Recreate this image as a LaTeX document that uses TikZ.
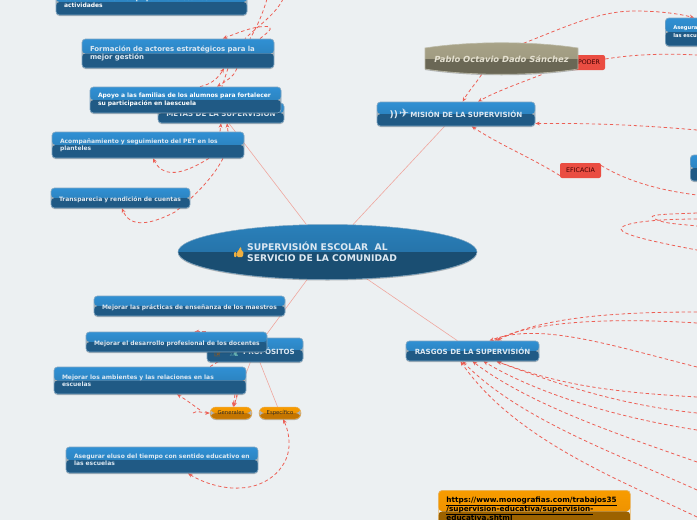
\documentclass[tikz,border=0pt]{standalone}
\usepackage{fontspec}
\setmainfont{DejaVu Sans}
\newfontfamily\emojifont{Noto Emoji}
\usetikzlibrary{arrows.meta,shadows,shapes.geometric}
\pgfdeclarelayer{bgl}\pgfdeclarelayer{edgel}
\pgfsetlayers{bgl,edgel,main}
\newcommand{\lowr}[1]{\rule{0pt}{9pt}#1}
\definecolor{pagebg}{HTML}{ECF0F2}
\definecolor{blueA}{HTML}{3090D4}
\definecolor{blueB}{HTML}{2878AE}
\definecolor{blueC}{HTML}{205A85}
\definecolor{blueEdge}{HTML}{7FA6C2}
\definecolor{cenA}{HTML}{2A80BA}
\definecolor{cenB}{HTML}{22689A}
\definecolor{cenC}{HTML}{1A4E72}
\definecolor{orA}{HTML}{F89C00}
\definecolor{orB}{HTML}{E68A00}
\definecolor{orC}{HTML}{9C6200}
\definecolor{palA}{HTML}{A8A388}
\definecolor{palB}{HTML}{98937A}
\definecolor{palC}{HTML}{6A6755}
\definecolor{palT}{HTML}{E4E0D0}
\definecolor{redL}{HTML}{EA4D42}
\definecolor{salmon}{HTML}{EFA79F}
\definecolor{paleT}{HTML}{DCE8F2}
\definecolor{thumbC}{HTML}{F0B040}
\tikzset{
  x=1pt,y=-1pt,
  twotone/.style n args={3}{path picture={
    \shade[top color=#1,bottom color=#2] (path picture bounding box.north west) rectangle (path picture bounding box.east);
    \fill[#3] (path picture bounding box.west) rectangle (path picture bounding box.south east);}},
  softshadow/.style={drop shadow={shadow xshift=0pt,shadow yshift=-1pt,opacity=.25,fill=black}},
  bluebox/.style={rectangle,rounded corners=3.5pt,draw=blueEdge,line width=.7pt,twotone={blueA}{blueB}{blueC},softshadow,
    text=paleT,font=\fontsize{6}{7.4}\selectfont\bfseries,align=left,inner xsep=8pt,inner ysep=0pt},
  headbox/.style={bluebox,align=center,inner xsep=0pt,font=\fontsize{7.1}{8}\selectfont\bfseries},
  pill/.style={rectangle,rounded corners=6pt,draw=orB!70!pagebg,line width=.5pt,twotone={orA}{orB}{orB!85!black},softshadow,
    text=black!85,font=\fontsize{5.3}{6}\selectfont,inner sep=0pt,minimum width=42pt,minimum height=12pt},
  linkbox/.style={rectangle,rounded corners=4pt,draw=orB!60!pagebg,line width=.7pt,twotone={orA}{orB}{orC},
    text=black,font=\fontsize{7.3}{8.9}\selectfont\bfseries,align=left,inner xsep=8pt,inner ysep=0pt},
  tagbox/.style={rectangle,rounded corners=2pt,fill=redL,text=black!75!red,font=\fontsize{6.3}{7}\selectfont,inner sep=0pt},
  branch/.style={draw=salmon,line width=.6pt},
  rel/.style={draw=redL!90!white,line width=.8pt,dash pattern=on 3.4pt off 2.6pt},
  reltip/.style={rel,-{Stealth[length=4.5pt,width=3.8pt]}},
  reltips/.style={rel,{Stealth[length=4.5pt,width=3.8pt]}-{Stealth[length=4.5pt,width=3.8pt]}},
  plain/.style={inner sep=0pt,align=left}
}
\begin{document}
\begin{tikzpicture}
\useasboundingbox (0,0) rectangle (697,520);
\begin{pgfonlayer}{bgl}
\fill[pagebg] (0,0) rectangle (697,520);
\end{pgfonlayer}

% ---- boxes, back ones first
\node[bluebox,text=white,text width=175pt,minimum height=26pt] (uso) at (151.5,2) {\mbox{Uso creativo del tiempo para fortalecer las}\\actividades};
\node[bluebox,text width=176pt,minimum height=29pt,font=\fontsize{6.95}{8}\selectfont\bfseries] (formacion) at (178,53.5) {\mbox{Formación de actores estratégicos para la}\\mejor gestión};
\node[headbox,minimum width=126pt,minimum height=20pt] (metas) at (221,113) {METAS DE LA SUPERVISIÓN};
\node[bluebox,text=white,text width=175pt,minimum height=26pt] (apoyo) at (185.5,100) {\mbox{Apoyo a las familias de los alumnos para fortalecer}\\su participación en laescuela};
\node[bluebox,text width=176pt,minimum height=26pt] (acomp) at (148,145) {\mbox{Acompañamiento y seguimiento del PET en los}\\planteles};
\node[bluebox,text width=123pt,minimum height=20pt] (transp) at (120.5,198) {\lowr{\mbox{Transparecia y rendición de cuentas}}};

\node[ellipse,draw=blueEdge,line width=.5pt,twotone={cenA}{cenB}{cenC},softshadow,inner sep=0pt,minimum width=299pt,minimum height=55pt] (central) at (327.5,252) {};
\fill[thumbC,rounded corners=1pt] (234,252) rectangle (236.5,257);
\fill[thumbC,rounded corners=1.2pt] (237,251.5) -- (238.5,251) -- (240,247) -- (241.6,247.4) -- (241.2,251) -- (243.5,251.2) -- (243,257) -- (237,257) -- cycle;
\node[plain,anchor=west,text=paleT,font=\fontsize{9.2}{11}\selectfont\bfseries] (centraltext) at (247,252) {SUPERVISIÓN ESCOLAR\ \ AL\\SERVICIO DE LA COMUNIDAD};

\node[bluebox,text width=175pt,minimum height=20pt] (practicas) at (189.5,306) {\lowr{\mbox{Mejorar las prácticas de enseñanza de los maestros}}};
\node[headbox,minimum width=96pt,minimum height=24pt] (propositos) at (255,350) {};
\node[plain,anchor=east,text=paleT,font=\fontsize{7.1}{8}\selectfont\bfseries] (proptext) at (295,351) {PROPÓSITOS};
\node[plain,text=orange!70!black,font=\emojifont\fontsize{7}{8}\selectfont] (propicon) at (218,353) {📝};
\node[plain,text=teal!60!white,font=\emojifont\fontsize{7}{8}\selectfont] (propiconb) at (234,353) {👥};
\node[bluebox,text width=165pt,minimum height=20pt] (desarrollo) at (176.5,342) {\lowr{\mbox{Mejorar el desarrollo profesional de los docentes}}};
\node[bluebox,text width=176pt,minimum height=27pt] (ambientes) at (150,380.5) {\mbox{Mejorar los ambientes y las relaciones en las}\\escuelas};
\node[pill] (generales) at (231,413) {Generales};
\node[pill] (especifico) at (280,413) {Específico};
\node[bluebox,text width=176pt,minimum height=26pt] (asegurar) at (162,460) {\mbox{Asegurar eluso del tiempo con sentido educativo en}\\las escuelas};

\node[tagbox,minimum width=35pt,minimum height=15pt] (poderbox) at (587.5,62.5) {};
\node[plain,text=black!75!red,font=\fontsize{6.3}{7}\selectfont] (podertext) at (589,62.5) {PODER};
\path[draw=palA!70!pagebg,line width=.6pt,twotone={palA}{palB}{palC},softshadow]
  (425,48) .. controls (470,41) and (533,41) .. (578,48) -- (578,69) .. controls (533,76) and (470,76) .. (425,69) -- cycle;
\node[plain,text=palT,font=\fontsize{8.4}{9}\selectfont\bfseries\itshape,minimum width=153pt,minimum height=31pt,align=center] (pablo) at (501.5,59) {Pablo Octavio Dado Sánchez};
\node[headbox,minimum width=158pt,minimum height=24pt] (mision) at (456,114) {{\fontsize{9}{8}\selectfont ))}\,{\fontsize{12}{8}\selectfont\mdseries ✈}\,MISIÓN DE LA SUPERVISIÓN};
\node[tagbox,minimum width=41pt,minimum height=15pt] (eficacia) at (580.5,170.5) {EFICACIA};
\node[bluebox,text=white,anchor=west,text width=176pt,minimum height=28pt,font=\fontsize{5.2}{8}\selectfont\bfseries] (aseguraTR) at (665,32) {Asegura\\las escu};
\node[bluebox,anchor=west,text width=176pt,minimum height=26pt] (rightbox) at (690,168) {};
\node[headbox,minimum width=133pt,minimum height=20pt] (rasgos) at (472.5,351) {RASGOS DE LA SUPERVISIÓN};
\node[linkbox,text width=176pt,minimum height=42pt,anchor=north west] (link) at (438,490) {\mbox{\smash{\underline{https://www.monografias.com/trabajos35}}}\\\mbox{\smash{\underline{/supervision-educativa/supervision-}}}\\\smash{\underline{educativa.shtml}}};

% ---- free ends
\foreach \n/\x/\y in {ta/283/-1,tb/267/-1,tc/697/55,td/697/130,te/697/195,
  la/697/213,lb/697/226,lc/697/219,ld/697/250,
  ra/697/312,rb/697/323,rc/697/367,rd/697/397,re/697/413,rf/697/430,rg/697/462,rh/697/490,ri/697/517}
  {\coordinate (\n) at (\x,\y);}
\coordinate (loopa) at (652,217);
\coordinate (loopb) at (655,219);
\coordinate (genloop) at (193,413);

\begin{pgfonlayer}{edgel}
% tree branches
\draw[branch] (central) -- (metas);
\draw[branch] (central) -- (mision);
\draw[branch] (central) -- (rasgos);
\draw[branch] (central) -- (propositos);
\draw[branch] (propositos) -- (generales);
\draw[branch] (propositos) -- (especifico);
% upper left
\draw[rel] (ta) .. controls (276,14) and (258,26) .. ([xshift=67pt]formacion.north);
\draw[rel] (tb) .. controls (263,13) and (257,27) .. ([xshift=72pt]formacion.north);
\draw[reltip] ([xshift=82pt]formacion.north) .. controls (271,30) and (275,26) .. (264,26.5) .. controls (252,27) and (240,32) .. ([xshift=44.7pt]formacion.north);
\draw[reltip] ([xshift=14.5pt]apoyo.north) .. controls (212,84) and (218,78) .. ([xshift=46pt]formacion.south);
\draw[reltip] ([xshift=59pt]formacion.south) .. controls (235,75) and (228,80) .. ([xshift=31.5pt]apoyo.north);
\draw[rel] ([xshift=50pt]formacion.south) -- ([xshift=36.5pt]apoyo.north);
\draw[reltip] ([xshift=72pt]acomp.north) -- ([xshift=0pt]metas.south);
\draw[reltip] ([xshift=80pt]acomp.north) -- ([xshift=6pt]metas.south);
\draw[reltip] ([xshift=61pt]acomp.south) .. controls (190,170) and (165,182) .. ([xshift=5pt]acomp.south);
\draw[reltip] ([xshift=75pt]acomp.south) .. controls (212,180) and (190,200) .. (175,212) .. controls (150,225) and (130,228) .. ([xshift=1.5pt]transp.south);
% lower left
\draw[reltip] ([xshift=29pt]desarrollo.north) -- ([xshift=18pt]desarrollo.north);
\draw[rel] ([xshift=57pt]desarrollo.south) -- ([xshift=60pt]ambientes.north);
\draw[reltip] ([xshift=87pt]ambientes.south) -- ([xshift=3pt]generales.north);
\draw[reltip] ([xshift=85pt]ambientes.south) -- ([xshift=2pt]generales.north);
\draw[reltip] (genloop) .. controls (197,410) and (202,413) .. (generales.west);
\draw[reltip] (200,410) .. controls (193,405) and (185,399) .. ([xshift=27pt]ambientes.south);
\draw[reltips] ([xshift=26pt]asegurar.south) .. controls (205,484) and (225,489) .. (240,488) .. controls (270,487) and (290,465) .. (289,443) .. controls (289,435) and (287,427) .. ([xshift=3pt]especifico.south);
% upper right
\draw[reltip] ([xshift=22pt]pablo.north) .. controls (570,25) and (600,11) .. (635,11) .. controls (660,11) and (680,14) .. ([xshift=29pt]aseguraTR.north west);
\draw[rel] (poderbox.east |- 0,59) .. controls (630,55) and (660,53) .. (tc);
\draw[reltip] ([xshift=-20pt]pablo.south) .. controls (476,83) and (468,92) .. ([xshift=6.7pt]mision.north);
\draw[reltip] ([xshift=40pt]pablo.south) .. controls (520,83) and (495,92) .. ([xshift=22pt]mision.north);
\draw[reltip] (td) .. controls (640,125) and (590,123) .. (mision.south east |- 0,123.5);
\draw[reltip] ([yshift=-5pt]eficacia.west) .. controls (530,157) and (500,145) .. ([xshift=15.7pt]mision.south);
\draw[rel] ([yshift=5pt]eficacia.east) .. controls (630,183) and (665,191) .. (te);
% loop
\draw[rel] (loopa) .. controls (652,214) and (675,214) .. (la);
\draw[rel] (loopb) .. controls (665,224) and (680,224) .. (lb);
\draw[rel] (lc) .. controls (670,219) and (622,221) .. (621,229) .. controls (621,235) and (660,243) .. (ld);
% rasgos
\draw[reltip] (ra) .. controls (610,312) and (540,318) .. ([xshift=24.5pt]rasgos.north);
\draw[reltip] (rb) .. controls (620,318) and (535,320) .. ([xshift=22pt]rasgos.north);
\draw[reltip] (rc) .. controls (610,345) and (540,322) .. ([xshift=17pt]rasgos.north);
\draw[reltip] (rd) .. controls (610,392) and (560,385) .. ([xshift=24.5pt]rasgos.south);
\draw[reltip] (re) .. controls (620,405) and (560,385) .. ([xshift=24pt]rasgos.south);
\draw[reltip] (rf) .. controls (620,418) and (540,395) .. ([xshift=11pt]rasgos.south);
\draw[reltip] (rg) .. controls (620,435) and (530,405) .. ([xshift=0pt]rasgos.south);
\draw[reltip] (rh) .. controls (620,455) and (520,420) .. ([xshift=-10pt]rasgos.south);
\draw[reltip] (ri) .. controls (620,480) and (515,440) .. ([xshift=-12pt]rasgos.south);
\end{pgfonlayer}
\end{tikzpicture}
\end{document}
